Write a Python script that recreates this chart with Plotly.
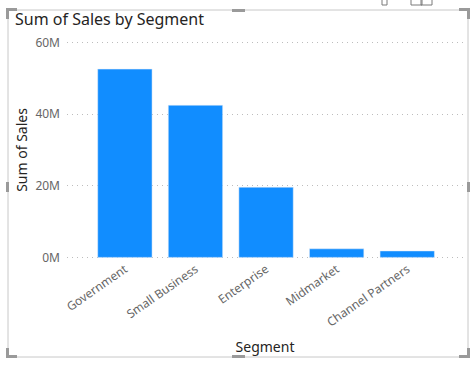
import plotly.graph_objects as go

segments = ["Government", "Small Business", "Enterprise", "Midmarket", "Channel Partners"]
sales = [52.6e6, 42.5e6, 19.6e6, 2.4e6, 1.8e6]
y_ticks = [0, 20e6, 40e6, 60e6]
y_tick_labels = ["0M", "20M", "40M", "60M"]

W, H = 474, 367
L, R, T, B = 67, 463, 41, 259  # plot area in px


def px(x, y):
    return (x - L) / (R - L), (B - y) / (B - T)


fig = go.Figure(go.Bar(x=segments, y=sales, marker_color="#118DFF", width=0.77,
                       hoverinfo="x+y"))

shapes = []
# outer frame
x0, y0 = px(8, 10)
x1, y1 = px(468, 357)
shapes.append(dict(type="rect", xref="paper", yref="paper", x0=x0, y0=y1, x1=x1, y1=y0,
                   line=dict(color="#C8C8C8", width=1), fillcolor="rgba(0,0,0,0)", layer="below"))

handle_col = "#9A9A9A"
def rect(xa, ya, xb, yb, outline=False):
    a, b_ = px(xa, ya)
    c, d = px(xb, yb)
    if outline:
        shapes.append(dict(type="rect", xref="paper", yref="paper", x0=a, y0=d, x1=c, y1=b_,
                           line=dict(width=1, color="#7A7A7A"), fillcolor="rgba(0,0,0,0)"))
    else:
        shapes.append(dict(type="rect", xref="paper", yref="paper", x0=a, y0=d, x1=c, y1=b_,
                           line=dict(width=0), fillcolor=handle_col))

# corner handles (L shapes)
rect(6, 8, 17, 11); rect(6, 8, 9, 19)
rect(459, 8, 470, 11); rect(467, 8, 470, 19)
rect(6, 355, 17, 358); rect(6, 348, 9, 358)
rect(459, 355, 470, 358); rect(467, 348, 470, 358)
# mid handles
rect(232, 9, 245, 12)
rect(232, 355, 245, 358)
rect(6, 182, 9, 192)
rect(467, 182, 470, 192)
# header icons (partially cut off)
rect(382, -3, 387, 5, outline=True)
rect(411, -3, 432, 5, outline=True)
rect(421, -3, 422, 5, outline=True)

fig.update_layout(
    width=W, height=H,
    margin=dict(l=L, r=W - R, t=T, b=H - B, autoexpand=False),
    paper_bgcolor="white", plot_bgcolor="white",
    font=dict(family="Noto Sans", color="#666666", size=12),
    title=dict(text="Sum of Sales by Segment", x=15 / W, xanchor="left",
               y=1 - 19 / H, yanchor="middle",
               font=dict(family="Noto Sans", size=16, color="#252423")),
    showlegend=False,
    shapes=shapes,
    xaxis=dict(
        range=[-0.82, 4.79], tickangle=-35, showgrid=False, showline=False,
        ticks="", tickfont=dict(size=12, color="#666666"), automargin=False,
        title=dict(text="Segment", font=dict(size=14, color="#252423"), standoff=12),
        fixedrange=True,
    ),
    yaxis=dict(
        range=[-0.45e6, 60.45e6], tickvals=y_ticks, ticktext=y_tick_labels,
        showgrid=True, gridcolor="#BDBDBD", griddash="1px,4px", gridwidth=1,
        zeroline=False, showline=False, ticks="", ticklabelstandoff=6,
        tickfont=dict(size=12, color="#666666"), automargin=False,
        title=dict(text="Sum of Sales", font=dict(size=14, color="#252423"), standoff=4),
        fixedrange=True,
    ),
)

fig.write_html("out.html", post_script="document.body.style.margin='0';",
               config={"displayModeBar": False})
